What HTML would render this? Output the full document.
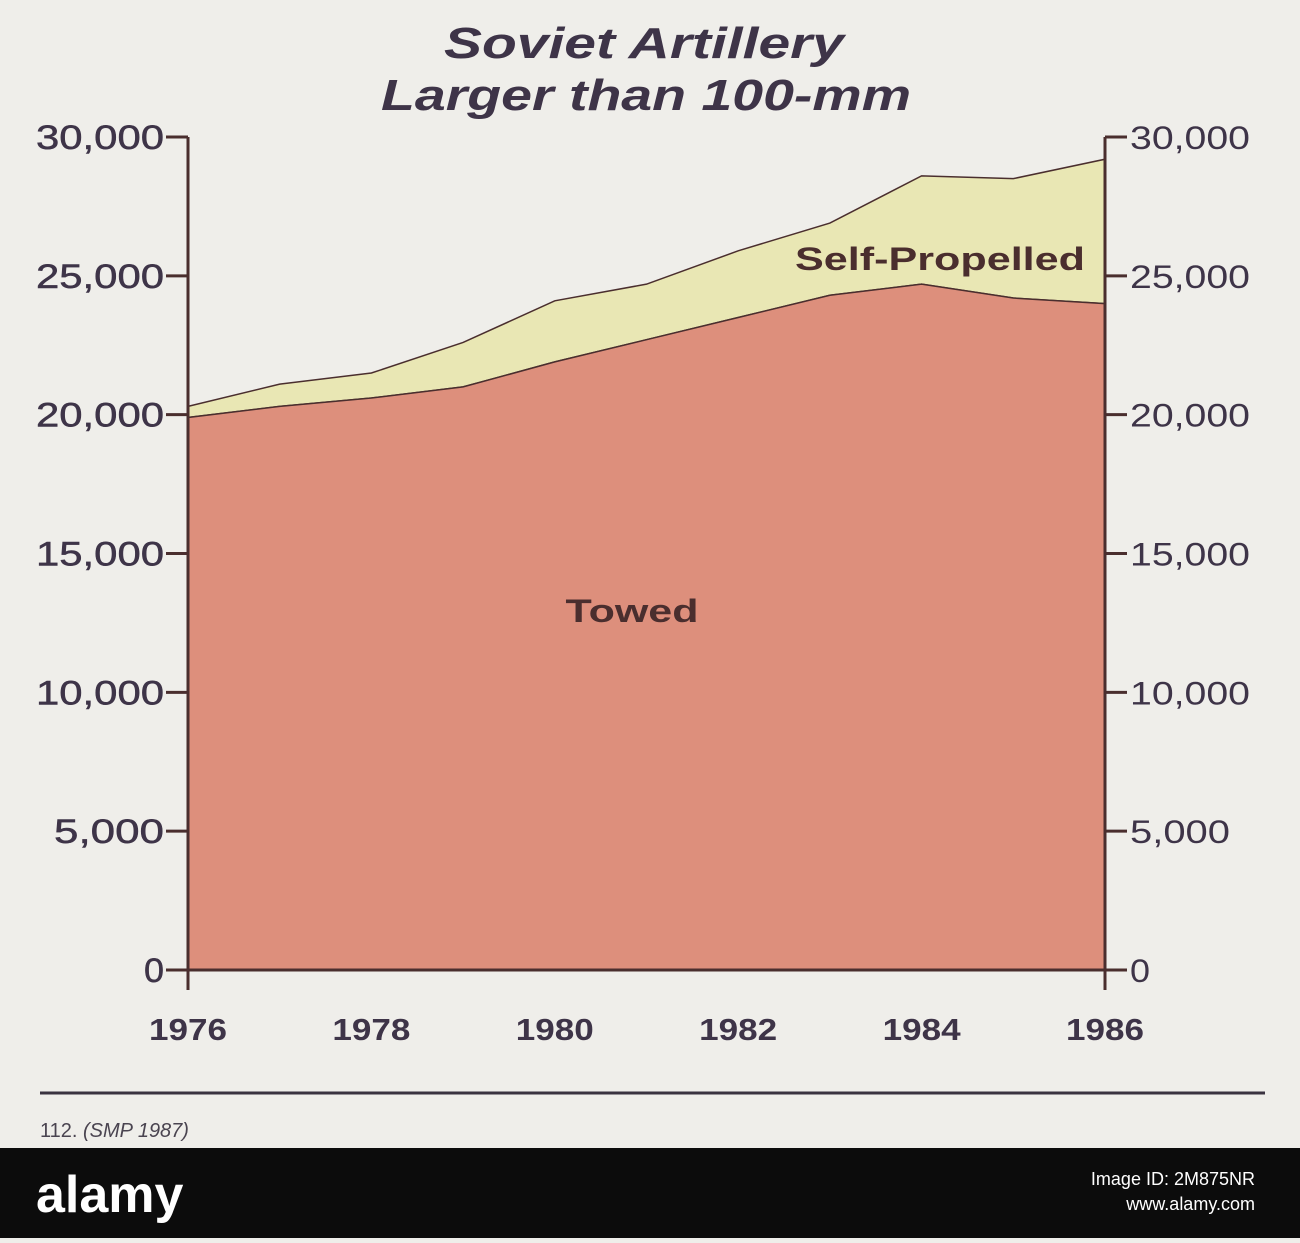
<!DOCTYPE html>
<html><head><meta charset="utf-8"><style>
body{margin:0;background:#efeeea;width:1300px;height:1238px;overflow:hidden;font-family:"Liberation Sans",sans-serif}
</style></head><body>
<svg width="1300" height="1238" xmlns="http://www.w3.org/2000/svg">
<rect width="1300" height="1238" fill="#efeeea"/>
<text x="644" y="58" text-anchor="middle" font-size="44" font-weight="bold" font-style="italic" fill="#3e3448" textLength="400" lengthAdjust="spacingAndGlyphs">Soviet Artillery</text>
<text x="646" y="110" text-anchor="middle" font-size="44" font-weight="bold" font-style="italic" fill="#3e3448" textLength="530" lengthAdjust="spacingAndGlyphs">Larger than 100-mm</text>
<g id="plot"></g>
<line x1="40" y1="1093" x2="1265" y2="1093" stroke="#3a3340" stroke-width="3"/>
<text x="40" y="1137" font-size="20" fill="#4a4450">112. <tspan font-style="italic">(SMP 1987)</tspan></text>
<rect x="0" y="1148" width="1300" height="90" fill="#0c0c0c"/>
<text x="36" y="1212" font-size="52" font-weight="bold" fill="#fff">alamy</text>
<text x="1255" y="1185" text-anchor="end" font-size="18" fill="#fff">Image ID: 2M875NR</text>
<text x="1255" y="1210" text-anchor="end" font-size="18" fill="#fff">www.alamy.com</text>
</svg>
<script>
const years=[1976,1977,1978,1979,1980,1981,1982,1983,1984,1985,1986];
const towed=[19900,20300,20600,21000,21900,22700,23500,24300,24700,24200,24000];
const total=[20300,21100,21500,22600,24100,24700,25900,26900,28600,28500,29200];
const yTicks=[0,5000,10000,15000,20000,25000,30000];
const xTicks=[1976,1978,1980,1982,1984,1986];
const NS="http://www.w3.org/2000/svg";
const x0=188,x1=1105,y0=970,y1=137;
const X=v=>x0+(v-1976)/(1986-1976)*(x1-x0);
const Y=v=>y0-v/30000*(y0-y1);
const g=document.getElementById('plot');
function mk(t,a){const e=document.createElementNS(NS,t);for(const k in a)e.setAttribute(k,a[k]);g.appendChild(e);return e;}
let sp='M'+years.map((y,i)=>X(y)+','+Y(total[i])).join(' L')+' L'+years.slice().reverse().map((y,i)=>X(y)+','+Y(towed[years.length-1-i])).join(' L')+'Z';
let e=mk('path',{d:sp,fill:'#e9e7b4',stroke:'#4a2e2e','stroke-width':1.5});


let tw='M'+X(1976)+','+Y(0)+' L'+years.map((y,i)=>X(y)+','+Y(towed[i])).join(' L')+' L'+X(1986)+','+Y(0)+'Z';
e=mk('path',{d:tw,fill:'#dd8f7c',stroke:'#4a2e2e','stroke-width':1.5});


const ax='#4a2e2e';
e=mk('line',{x1:x0,y1:y1,x2:x0,y2:y0+20,stroke:ax,'stroke-width':3});


e=mk('line',{x1:x1,y1:y1,x2:x1,y2:y0+20,stroke:ax,'stroke-width':3});


e=mk('line',{x1:x0,y1:y0,x2:x1,y2:y0,stroke:ax,'stroke-width':3});


yTicks.forEach(v=>{
 const y=Y(v),lab=v===0?'0':v.toLocaleString('en-US');
 mk('line',{x1:x0-22,y1:y,x2:x0,y2:y,stroke:ax,'stroke-width':3});
 mk('line',{x1:x1,y1:y,x2:x1+22,y2:y,stroke:ax,'stroke-width':3});
 const lw=v>=10000?128:(v>0?110:20);
 e=mk('text',{x:164-lw,y:y+12,'font-size':34,fill:'#3e3448',stroke:'#3e3448','stroke-width':0.5,textLength:lw,lengthAdjust:'spacingAndGlyphs'});e.textContent=lab;
 
 
 const rw=v>=10000?120:(v>0?100:20);
 e=mk('text',{x:x1+25,y:y+12,'font-size':32,fill:'#3e3448',textLength:rw,lengthAdjust:'spacingAndGlyphs'});e.textContent=lab;
 
 
});
xTicks.forEach(v=>{
 e=mk('text',{x:X(v),y:1040,'text-anchor':'middle','font-size':31,'font-weight':'bold',fill:'#3e3448',textLength:78,lengthAdjust:'spacingAndGlyphs'});e.textContent=v;
 
 
});
e=mk('text',{x:940,y:270,'text-anchor':'middle','font-size':32,'font-weight':'bold',fill:'#4a2e2e',textLength:290,lengthAdjust:'spacingAndGlyphs'});e.textContent='Self-Propelled';


e=mk('text',{x:632,y:622,'text-anchor':'middle','font-size':32,'font-weight':'bold',fill:'#4a2e2e',textLength:133,lengthAdjust:'spacingAndGlyphs'});e.textContent='Towed';


</script>
</body></html>
